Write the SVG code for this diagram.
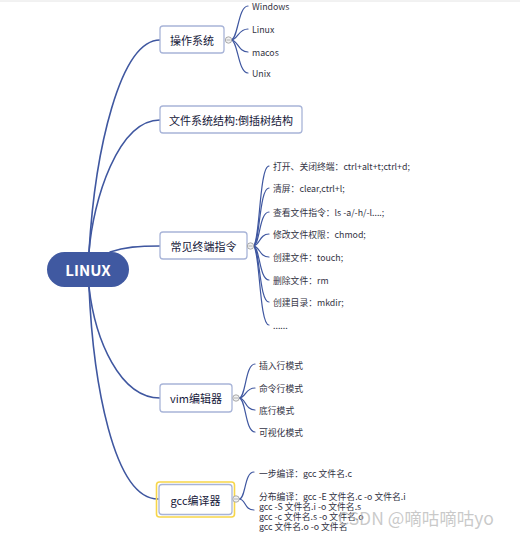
<svg xmlns="http://www.w3.org/2000/svg" width="520" height="536" viewBox="0 0 520 536">
<style>
.bg{fill:#ffffff}
.conn path{fill:none;stroke:#3f57a0;stroke-width:1.6;stroke-linecap:round}
.conn path.sub{stroke-width:1.2}
.box{fill:#ffffff;stroke:#a8b4d8;stroke-width:1.3}
.sel{fill:none;stroke:#f7d64a;stroke-width:1.6}
.main{font-family:"Noto Sans CJK SC","Microsoft YaHei",sans-serif;font-size:11px;fill:#16183a;text-anchor:middle;dominant-baseline:central}
.leaf{font-family:"Noto Sans CJK SC","Microsoft YaHei",sans-serif;font-size:8.8px;fill:#333344;dominant-baseline:central}
.root{font-family:"Noto Sans CJK SC","Liberation Sans",sans-serif;font-size:15px;font-weight:bold;fill:#ffffff;text-anchor:middle;dominant-baseline:central}
.handle circle{fill:#f2f2f2;stroke:#a0a0a0;stroke-width:0.9}
.handle line{stroke:#a0a0a0;stroke-width:0.8}
.wm{font-family:"Noto Sans CJK SC",sans-serif;font-size:17.5px;fill:#b8b8b8;fill-opacity:0.75;dominant-baseline:central}
</style>
<rect class="bg" x="0" y="0" width="520" height="536"/>
<line x1="0" y1="1" x2="520" y2="1" stroke="#e4e4e4" stroke-width="1"/>

<g id="connectors" class="conn">
  <!-- root to main topics -->
  <path d="M89,252 C95,150 120,40 160,40"/>
  <path d="M89,252 C93,200 118,120 160,120"/>
  <path d="M110,252 C125,247 138,246 160,246"/>
  <path d="M89,287 C95,340 120,398 160,398"/>
  <path d="M89,287 C93,380 113,499 158,499"/>
  <!-- 操作系统 children -->
  <path class="sub" d="M231,40 C238,40 238,6 248,6"/>
  <path class="sub" d="M231,40 C238,40 238,29 248,29"/>
  <path class="sub" d="M231,40 C238,40 238,52 248,52"/>
  <path class="sub" d="M231,40 C238,40 238,73 248,73"/>
  <!-- 常见终端指令 children -->
  <path class="sub" d="M253,246 C260,246 259,166 269,166"/>
  <path class="sub" d="M253,246 C260,246 259,188 269,188"/>
  <path class="sub" d="M253,246 C260,246 259,212 269,212"/>
  <path class="sub" d="M253,246 C260,246 259,234 269,234"/>
  <path class="sub" d="M253,246 C260,246 259,257 269,257"/>
  <path class="sub" d="M253,246 C260,246 259,280 269,280"/>
  <path class="sub" d="M253,246 C260,246 259,302 269,302"/>
  <path class="sub" d="M253,246 C260,246 259,325 269,325"/>
  <!-- vim children -->
  <path class="sub" d="M239,398 C246,398 245,364 255,364"/>
  <path class="sub" d="M239,398 C246,398 245,388 255,388"/>
  <path class="sub" d="M239,398 C246,398 245,410 255,410"/>
  <path class="sub" d="M239,398 C246,398 245,432 255,432"/>
  <!-- gcc children -->
  <path class="sub" d="M239,499 C246,499 244,472 254,472"/>
  <path class="sub" d="M239,499 C246,499 244,510 254,510"/>
</g>

<g id="root">
  <rect x="47" y="252" width="82" height="35" rx="17.5" fill="#4059a1"/>
  <text class="root" x="88" y="269.5">LINUX</text>
</g>

<g id="node-os">
  <rect class="box" x="160" y="26" width="64" height="27" rx="3"/>
  <text class="main" x="192" y="39.5">操作系统</text>
  <g class="handle"><circle cx="228.5" cy="40" r="3.2"/><line x1="226.5" y1="40" x2="230.5" y2="40"/></g>
</g>
<g id="leaf-windows"><text class="leaf" x="252" y="6">Windows</text></g>
<g id="leaf-linux"><text class="leaf" x="252" y="29">Linux</text></g>
<g id="leaf-macos"><text class="leaf" x="252" y="52">macos</text></g>
<g id="leaf-unix"><text class="leaf" x="252" y="73">Unix</text></g>

<g id="node-fs">
  <rect class="box" x="160" y="106" width="142" height="27" rx="3"/>
  <text class="main" x="231" y="119.5">文件系统结构:倒插树结构</text>
</g>

<g id="node-cmd">
  <rect class="box" x="160" y="232" width="87" height="27" rx="3"/>
  <text class="main" x="203.5" y="245.5">常见终端指令</text>
  <g class="handle"><circle cx="250.5" cy="246" r="3.2"/><line x1="248.5" y1="246" x2="252.5" y2="246"/></g>
</g>
<g id="leaf-cmd1"><text class="leaf" x="273" y="166">打开、关闭终端：ctrl+alt+t;ctrl+d;</text></g>
<g id="leaf-cmd2"><text class="leaf" x="273" y="188">清屏：clear,ctrl+l;</text></g>
<g id="leaf-cmd3"><text class="leaf" x="273" y="212">查看文件指令：ls -a/-h/-l....;</text></g>
<g id="leaf-cmd4"><text class="leaf" x="273" y="234">修改文件权限：chmod;</text></g>
<g id="leaf-cmd5"><text class="leaf" x="273" y="257">创建文件：touch;</text></g>
<g id="leaf-cmd6"><text class="leaf" x="273" y="280">删除文件：rm</text></g>
<g id="leaf-cmd7"><text class="leaf" x="273" y="302">创建目录：mkdir;</text></g>
<g id="leaf-cmd8"><text class="leaf" x="273" y="325">......</text></g>

<g id="node-vim">
  <rect class="box" x="160" y="384" width="72" height="28" rx="3"/>
  <text class="main" x="196" y="398">vim编辑器</text>
  <g class="handle"><circle cx="236" cy="398" r="3.2"/><line x1="234" y1="398" x2="238" y2="398"/></g>
</g>
<g id="leaf-vim1"><text class="leaf" x="259" y="365">插入行模式</text></g>
<g id="leaf-vim2"><text class="leaf" x="259" y="388">命令行模式</text></g>
<g id="leaf-vim3"><text class="leaf" x="259" y="410.5">底行模式</text></g>
<g id="leaf-vim4"><text class="leaf" x="259" y="432.5">可视化模式</text></g>

<g id="node-gcc">
  <rect class="sel" x="156.5" y="482" width="78" height="35" rx="3"/>
  <rect class="box" x="159" y="484.5" width="73" height="30" rx="3"/>
  <text class="main" x="195.5" y="499.5">gcc编译器</text>
  <g class="handle"><circle cx="236" cy="499" r="3.2"/><line x1="234" y1="499" x2="238" y2="499"/></g>
</g>
<g id="leaf-gcc1"><text class="leaf" x="259" y="473">一步编译：gcc 文件名.c</text></g>
<g id="leaf-gcc2">
  <text class="leaf" x="259" y="496.5">分布编译：gcc -E 文件名.c -o 文件名.i</text>
  <text class="leaf" x="259" y="506.5">gcc -S 文件名.i -o 文件名.s</text>
  <text class="leaf" x="259" y="516.5">gcc -c 文件名.s -o 文件名.o</text>
  <text class="leaf" x="259" y="526.5">gcc 文件名.o -o 文件名</text>
</g>

<text class="wm" x="338" y="517">CSDN @嘀咕嘀咕yo</text>
</svg>
